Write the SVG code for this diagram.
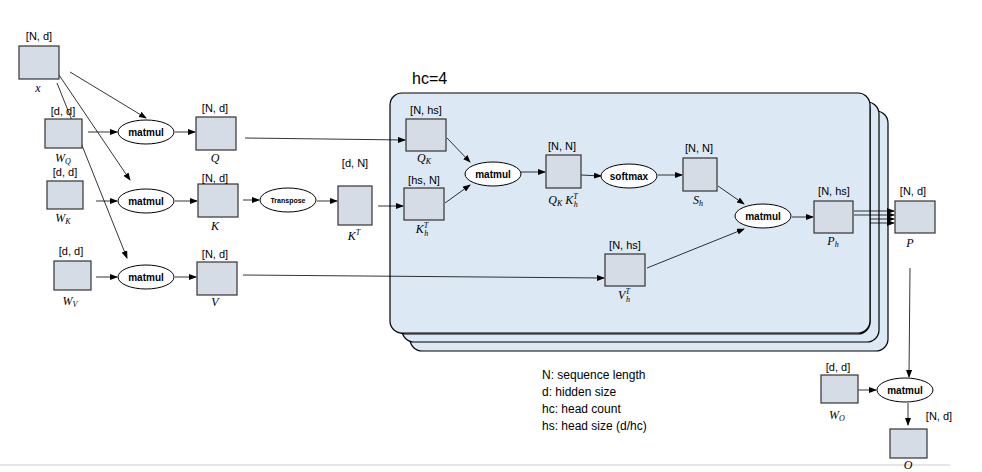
<svg xmlns="http://www.w3.org/2000/svg" width="982" height="472" viewBox="0 0 982 472">
<style>
.b{fill:#d5dce6;stroke:#333;stroke-width:1.2}
.e{fill:#fff;stroke:#000;stroke-width:1}
.p{fill:#dce8f4;stroke:#000;stroke-width:1.2}
.t{font-family:"Liberation Sans",Arial,sans-serif;font-size:11px;fill:#000;text-anchor:middle}
.o{font-family:"Liberation Sans",Arial,sans-serif;font-size:10px;font-weight:bold;fill:#000;text-anchor:middle}
.m{font-family:"Liberation Serif","Times New Roman",serif;font-style:italic;font-weight:normal;font-size:12px;fill:#000;text-anchor:middle}
.s{font-size:8px}
.l{font-family:"Liberation Sans",Arial,sans-serif;font-size:12px;fill:#000}
.c{stroke:#000;stroke-width:0.8;fill:none;marker-end:url(#a)}
</style>
<defs><marker id="a" markerWidth="8" markerHeight="6" refX="7" refY="3" orient="auto" markerUnits="userSpaceOnUse"><path d="M0,0L8,3L0,6z" fill="#000"/></marker></defs>
<line x1="0" y1="465" x2="950" y2="465" stroke="#ccc"/>
<g id="panel">
<rect class="p" x="410" y="111" width="478" height="240" rx="12"/>
<rect class="p" x="402" y="102" width="477" height="240" rx="12"/>
<rect class="p" x="394" y="97" width="476" height="237" rx="12"/>
<rect class="p" x="390" y="93" width="480" height="240" rx="12"/>
<text x="412" y="84" font-family="Liberation Sans,Arial,sans-serif" font-size="16">hc=4</text>
</g>
<g id="connectors">
<line class="c" x1="70" y1="72" x2="146" y2="118"/>
<line class="c" x1="59" y1="75" x2="130" y2="180"/>
<line class="c" x1="57" y1="83" x2="127" y2="258"/>
<line class="c" x1="88" y1="132" x2="117" y2="132"/>
<line class="c" x1="96" y1="201" x2="117" y2="201"/>
<line class="c" x1="96" y1="277" x2="117" y2="277"/>
<line class="c" x1="175" y1="132" x2="195" y2="132"/>
<line class="c" x1="175" y1="201" x2="197" y2="201"/>
<line class="c" x1="175" y1="277" x2="196" y2="277"/>
<line class="c" x1="243" y1="200" x2="259" y2="200"/>
<line class="c" x1="317" y1="201" x2="337" y2="201"/>
<line class="c" x1="245" y1="138" x2="405" y2="140"/>
<line class="c" x1="378" y1="206" x2="403" y2="206"/>
<line class="c" x1="243" y1="275" x2="604" y2="278"/>
<line class="c" x1="447" y1="138" x2="470" y2="162"/>
<line class="c" x1="445" y1="203" x2="470" y2="185"/>
<line class="c" x1="521" y1="172" x2="545" y2="172"/>
<line class="c" x1="581" y1="175" x2="601" y2="176"/>
<line class="c" x1="658" y1="175" x2="682" y2="175"/>
<line class="c" x1="718" y1="186" x2="744" y2="204"/>
<line class="c" x1="647" y1="268" x2="744" y2="229"/>
<line class="c" x1="792" y1="217" x2="813" y2="217"/>
<line class="c" x1="854" y1="211" x2="894" y2="211"/>
<line class="c" x1="854" y1="215" x2="894" y2="215"/>
<line class="c" x1="870" y1="219" x2="894" y2="219"/>
<line class="c" x1="870" y1="223" x2="894" y2="223"/>
<line class="c" x1="910" y1="268" x2="909" y2="377"/>
<line class="c" x1="858" y1="390" x2="876" y2="390"/>
<line class="c" x1="908" y1="403" x2="908" y2="425"/>
</g>
<g id="X"><rect class="b" x="19" y="46" width="40" height="33"/><text class="t" x="39" y="40">[N, d]</text><text class="m" x="38" y="92">x</text></g>
<g id="WQ"><rect class="b" x="45" y="119" width="37" height="29"/><text class="t" x="63" y="115">[d, d]</text><text class="m" x="63" y="162">W<tspan class="s" dy="2">Q</tspan></text></g>
<g id="WK"><rect class="b" x="47" y="181" width="36" height="28"/><text class="t" x="65" y="176">[d, d]</text><text class="m" x="63" y="222">W<tspan class="s" dy="2">K</tspan></text></g>
<g id="WV"><rect class="b" x="54" y="261" width="37" height="29"/><text class="t" x="71" y="255">[d, d]</text><text class="m" x="70" y="305">W<tspan class="s" dy="2">V</tspan></text></g>
<g id="mm1"><ellipse class="e" cx="146" cy="132" rx="28" ry="12"/><text class="o" x="146" y="136">matmul</text></g>
<g id="mm2"><ellipse class="e" cx="146" cy="201" rx="28" ry="12"/><text class="o" x="146" y="205">matmul</text></g>
<g id="mm3"><ellipse class="e" cx="146" cy="277" rx="28" ry="12"/><text class="o" x="146" y="281">matmul</text></g>
<g id="Q"><rect class="b" x="196" y="117" width="40" height="33"/><text class="t" x="215" y="112">[N, d]</text><text class="m" x="215" y="162">Q</text></g>
<g id="K"><rect class="b" x="198" y="184" width="40" height="33"/><text class="t" x="215" y="182">[N, d]</text><text class="m" x="215" y="230">K</text></g>
<g id="V"><rect class="b" x="197" y="262" width="40" height="33"/><text class="t" x="215" y="258">[N, d]</text><text class="m" x="215" y="306">V</text></g>
<g id="transpose"><ellipse class="e" cx="288" cy="200" rx="28" ry="12"/><text class="o" x="288" y="203" style="font-size:7px">Transpose</text></g>
<g id="KT"><rect class="b" x="338" y="186" width="34" height="39"/><text class="t" x="355" y="167">[d, N]</text><text class="m" x="354" y="240">K<tspan class="s" dy="-5">T</tspan></text></g>
<g id="QK"><rect class="b" x="406" y="119" width="40" height="32"/><text class="t" x="426" y="114">[N, hs]</text><text class="m" x="424" y="162">Q<tspan class="s" dy="2">K</tspan></text></g>
<g id="KhT"><rect class="b" x="404" y="188" width="40" height="32"/><text class="t" x="424" y="184">[hs, N]</text><text class="m" x="422" y="233">K<tspan class="s" dy="-5">T</tspan><tspan class="s" dx="-4" dy="8">h</tspan></text></g>
<g id="mm4"><ellipse class="e" cx="493" cy="174" rx="28" ry="12"/><text class="o" x="493" y="178">matmul</text></g>
<g id="QKKT"><rect class="b" x="546" y="155" width="35" height="33"/><text class="t" x="562" y="150">[N, N]</text><text class="m" x="563" y="204">Q<tspan class="s" dy="2">K</tspan><tspan dy="-2"> K</tspan><tspan class="s" dy="-5">T</tspan><tspan class="s" dx="-4" dy="8">h</tspan></text></g>
<g id="softmax"><ellipse class="e" cx="629" cy="176" rx="28" ry="12"/><text class="o" x="629" y="180">softmax</text></g>
<g id="Sh"><rect class="b" x="683" y="158" width="34" height="33"/><text class="t" x="699" y="152">[N, N]</text><text class="m" x="698" y="204">S<tspan class="s" dy="2">h</tspan></text></g>
<g id="VhT"><rect class="b" x="605" y="254" width="40" height="32"/><text class="t" x="625" y="249">[N, hs]</text><text class="m" x="624" y="299">V<tspan class="s" dy="-5">T</tspan><tspan class="s" dx="-4" dy="8">h</tspan></text></g>
<g id="mm5"><ellipse class="e" cx="763" cy="216" rx="28" ry="12"/><text class="o" x="763" y="220">matmul</text></g>
<g id="Ph"><rect class="b" x="814" y="201" width="39" height="32"/><text class="t" x="834" y="195">[N, hs]</text><text class="m" x="833" y="245">P<tspan class="s" dy="2">h</tspan></text></g>
<g id="P"><rect class="b" x="895" y="201" width="40" height="32"/><text class="t" x="913" y="195">[N, d]</text><text class="m" x="910" y="247">P</text></g>
<g id="WO"><rect class="b" x="821" y="375" width="37" height="28"/><text class="t" x="838" y="371">[d, d]</text><text class="m" x="837" y="419">W<tspan class="s" dy="2">O</tspan></text></g>
<g id="mm6"><ellipse class="e" cx="905" cy="390" rx="28" ry="12"/><text class="o" x="905" y="394">matmul</text></g>
<g id="O"><rect class="b" x="890" y="429" width="37" height="29"/><text class="t" x="939" y="420">[N, d]</text><text class="m" x="908" y="469">O</text></g>
<g id="legend" class="l">
<text x="542" y="379">N: sequence length</text>
<text x="542" y="396">d: hidden size</text>
<text x="542" y="413">hc: head count</text>
<text x="542" y="430">hs: head size (d/hc)</text>
</g>
</svg>
